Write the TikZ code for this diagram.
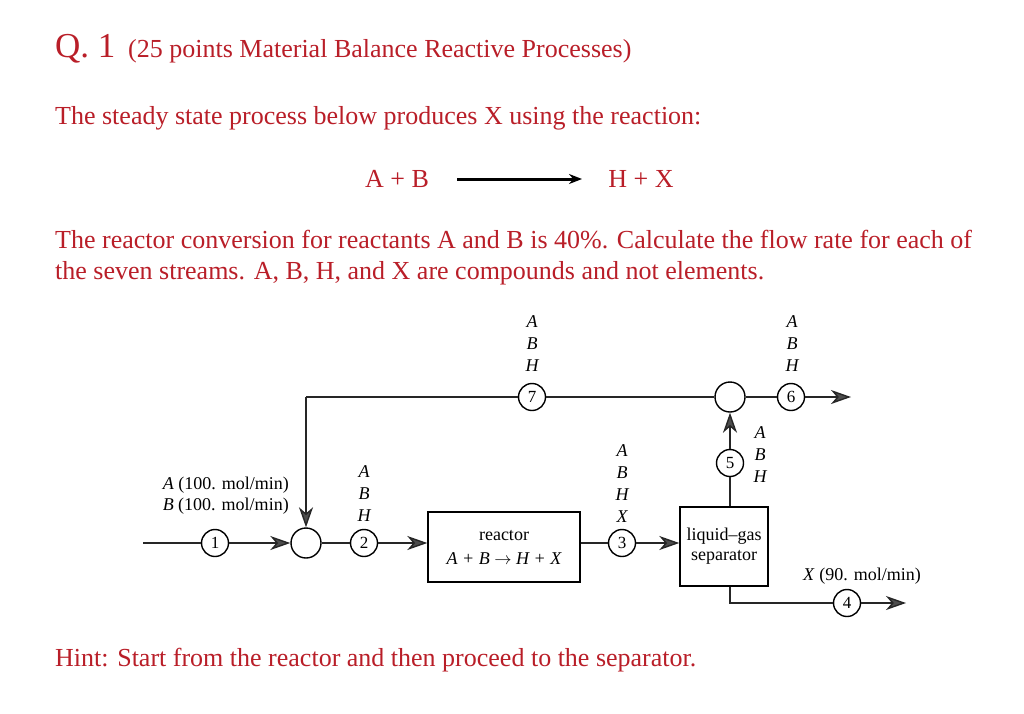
\documentclass[tikz,border=0pt]{standalone}
\usepackage{fontspec}
\setmainfont{Liberation Serif}
\usetikzlibrary{arrows.meta}
\definecolor{qred}{RGB}{185,30,40}
\begin{document}
\begin{tikzpicture}[x=1pt,y=-1pt,
  txt/.style={text=qred,anchor=base west,inner sep=0,font=\fontsize{26}{28}\selectfont},
  st/.style={circle,draw,line width=1.4pt,minimum size=27pt,inner sep=0,font=\fontsize{17}{18}\selectfont},
  jn/.style={circle,draw,line width=1.4pt,minimum size=30pt,inner sep=0},
  box/.style={draw,line width=1.4pt,inner sep=0,font=\fontsize{18}{20}\selectfont,align=center},
  lab/.style={inner sep=0,font=\fontsize{18}{22}\selectfont\itshape,align=center},
  ln/.style={line width=1.4pt,draw=black!85},
  ar/.style={ln,-{Stealth[length=20pt,width=14pt,inset=6pt,fill=black!70]}}]
\useasboundingbox (0,0) rectangle (1024,713);
% texts
\node[txt,font=\fontsize{35}{36}\selectfont] (q) at (55,57) {Q. 1};
\node[txt] (q2) at (128,57) {(25 points Material Balance Reactive Processes)};
\node[txt] (l1) at (55,124) {The steady state process below produces X using the reaction:};
\node[txt,anchor=base] (rl) at (397,187) {A + B};
\node[txt,anchor=base] (rr) at (641,187) {H + X};
\coordinate (ra) at (457,179); \coordinate (rb) at (582,179);
\draw[line width=3pt,-{Stealth[length=13pt,width=10pt]}] (ra) -- (rb);
\node[txt] (l2) at (55,248) {The reactor conversion for reactants A and B is 40\%. Calculate the flow rate for each of};
\node[txt] (l3) at (55,279) {the seven streams. A, B, H, and X are compounds and not elements.};
\node[txt] (l4) at (55,666) {Hint: Start from the reactor and then proceed to the separator.};
% diagram
\coordinate (in) at (143,543);
\node[st] (s1) at (215,543) {1};
\node[jn] (mix) at (306,543) {};
\node[st] (s2) at (364,543) {2};
\node[box,minimum width=152pt,minimum height=70pt] (re) at (504,547) {reactor\\[4pt]\itshape A + B $\rightarrow$ H + X};
\node[st] (s3) at (622,543) {3};
\node[box,minimum width=88pt,minimum height=79pt] (sep) at (724,546.5) {liquid–gas\\separator};
\node[st] (s5) at (730,463) {5};
\node[jn] (spl) at (730,397) {};
\node[st] (s6) at (791,397) {6};
\coordinate (o6) at (851,397);
\node[st] (s7) at (532,397) {7};
\coordinate (c7) at (306,397);
\coordinate (b4) at (730,603);
\node[st] (s4) at (847,603) {4};
\coordinate (o4) at (906,603);
\draw[ln] (in) -- (s1);
\draw[ar] (s1) -- (mix);
\draw[ln] (mix) -- (s2);
\draw[ar] (s2) -- (re.west|-s2);
\draw[ln] (re.east|-s3) -- (s3);
\draw[ar] (s3) -- (sep.west|-s3);
\draw[ln] (sep.north-|s5) -- (s5);
\draw[ar] (s5) -- (spl);
\draw[ln] (spl) -- (s6);
\draw[ar] (s6) -- (o6);
\draw[ln] (spl) -- (s7);
\draw[ln] (s7) -- (c7);
\draw[ar] (c7) -- (mix);
\draw[ln] (sep.south-|b4) -- (b4) -- (s4);
\draw[ar] (s4) -- (o4);
% labels
\node[lab] (L7) at (532,344) {A\\B\\H};
\node[lab] (L6) at (792,344) {A\\B\\H};
\node[lab] (L2) at (364,494) {A\\B\\H};
\node[lab] (L3) at (622,484) {A\\B\\H\\X};
\node[lab] (L5) at (760,455) {A\\B\\H};
\node[lab,anchor=east,align=left,font=\fontsize{18}{21}\selectfont] (L1) at (289,496) {\textit{A} (100. mol/min)\\\textit{B} (100. mol/min)};
\node[lab,font=\fontsize{18}{20}\selectfont] (L4) at (862,576) {\textit{X} (90. mol/min)};
\end{tikzpicture}
\end{document}
